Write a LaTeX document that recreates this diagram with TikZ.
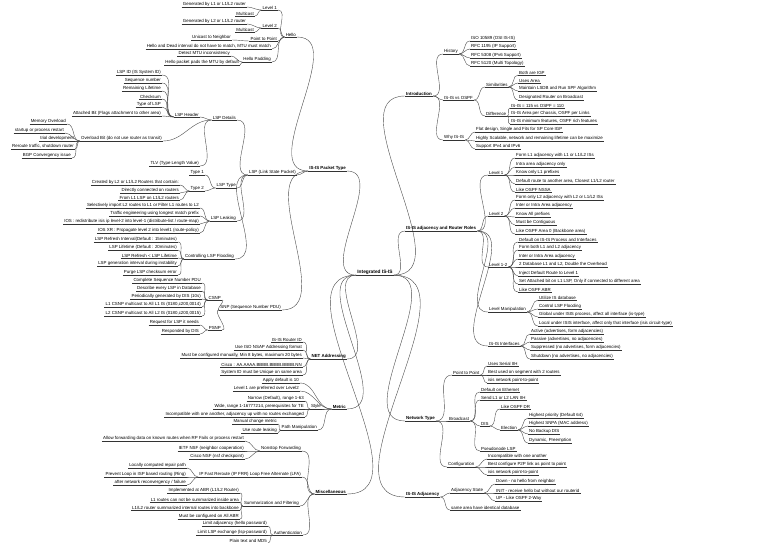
\documentclass[tikz,border=0pt]{standalone}
\usepackage{fontspec}
\setmainfont{Liberation Sans}
\tikzset{
 ul/.style={draw=black!80,line width=0.4pt},
 lf/.style={inner xsep=1pt,inner ysep=0.7pt,font=\fontsize{4.4}{5}\selectfont,
   append after command={(\tikzlastnode.south west) edge[ul] (\tikzlastnode.south east)}},
 con/.style={draw=black!70,line width=0.4pt},
}
\newcommand\LN[5]{\node[lf,anchor=south east] (#1) at (#3,#4+3) {#5};
  \draw[con] (#2.south west) to[out=180,in=0] (#1.south east);}
\newcommand\RN[5]{\node[lf,anchor=south west] (#1) at (#3,#4+3) {#5};
  \draw[con] (#2.south east) to[out=0,in=180] (#1.south west);}
\begin{document}
\begin{tikzpicture}[x=1pt,y=-1pt]
\useasboundingbox[fill=white] (0,0) rectangle (768,543);
\node[lf,font=\fontsize{4.8}{5}\selectfont\bfseries] (root) at (375,272) {Integrated IS-IS};
% ---------- left
\LN{pt}{root}{347}{168}{\bfseries IS-IS Packet Type}
\LN{hello}{pt}{297}{34}{Hello}
\LN{hl1}{hello}{278}{7}{Level 1}
\LN{a1}{hl1}{247}{4}{Generated by L1 or L1/L2 router}
\LN{a2}{hl1}{255}{13}{Multicast}
\LN{hl2}{hello}{278}{25}{Level 2}
\LN{a3}{hl2}{247}{21}{Generated by L2 or L1/L2 router}
\LN{a4}{hl2}{255}{29}{Multicast}
\LN{hp}{hello}{278}{38}{Point to Point}
\LN{a5}{hp}{232}{37}{Unicast to Neighbor}
\LN{a6}{hello}{272}{46}{Hello and Dead interval do not have to match, MTU must match}
\LN{hpad}{hello}{272}{59}{Hello Padding}
\LN{a7}{hpad}{231}{53}{Detect MTU inconsistency}
\LN{a8}{hpad}{240}{62}{Hello packet pads the MTU by default}
\LN{lsp}{pt}{297}{172}{LSP (Link State Packet)}
\LN{lspd}{lsp}{237}{117}{LSP Details}
\LN{lsph}{lspd}{200}{114}{LSP Header}
\LN{b1}{lsph}{162}{72}{LSP ID (IS System ID)}
\LN{b2}{lsph}{162}{80}{Sequence number}
\LN{b3}{lsph}{162}{88}{Remaining Lifetime}
\LN{b4}{lsph}{162}{96}{Checksum}
\LN{b5}{lsph}{162}{104}{Type of LSP}
\LN{b6}{lsph}{162}{113}{Attached Bit (Flags attachment to other area)}
\LN{ovl}{lspd}{163}{138}{Overload Bit (do not use router as transit)}
\LN{c1}{ovl}{67}{121}{Memory Overload}
\LN{c2}{ovl}{65}{130}{startup or process restart}
\LN{c3}{ovl}{75}{138}{trial development}
\LN{c4}{ovl}{75}{146}{Reroute traffic, shutdown router}
\LN{c5}{ovl}{72}{155}{BGP Convergency issue}
\LN{tlv}{lspd}{200}{163}{TLV (Type Length Value)}
\LN{lspt}{lsp}{237}{185}{LSP Type}
\LN{t1}{lspt}{205}{172}{Type 1}
\LN{t2}{lspt}{205}{188}{Type 2}
\LN{d1}{t2}{180}{182}{Created by L2 or L1/L2 Routers that contain:}
\LN{d2}{t2}{180}{190}{Directly connected on routers}
\LN{d3}{t2}{180}{197}{From L1 LSP on L1/L2 routers}
\LN{leak}{lsp}{237}{218}{LSP Leaking}
\LN{e1}{leak}{200}{205}{Selectively import L2 routes to L1 or Filter L1 routes to L2}
\LN{e2}{leak}{200}{213}{Traffic engineering using longest match prefix}
\LN{e3}{leak}{200}{221}{IOS : redistribute isis ip level-2 into level-1 (distribute-list / route-map)}
\LN{e4}{leak}{200}{230}{IOS XR : Propagate level 2 into level1 (route-policy)}
\LN{ctl}{lsp}{235}{256}{Controlling LSP Flooding}
\LN{f1}{ctl}{178}{239}{LSP Refresh Interval(Default : 15minutes)}
\LN{f2}{ctl}{178}{247}{LSP Lifetime (Default : 20minutes)}
\LN{f3}{ctl}{178}{255}{LSP Refresh < LSP Lifetime}
\LN{f4}{ctl}{178}{263}{LSP generation interval during instability}
\LN{f5}{ctl}{178}{272}{Purge LSP checksum error}
\LN{snp}{pt}{282}{307}{SNP (Sequence Number PDU)}
\LN{csnp}{snp}{222}{297}{CSNP}
\LN{g1}{csnp}{202}{280}{Complete Sequence Number PDU}
\LN{g2}{csnp}{202}{288}{Describe every LSP in Database}
\LN{g3}{csnp}{202}{296}{Periodically generated by DIS (10s)}
\LN{g4}{csnp}{202}{304}{L1 CSNP multicast to All L1 IS (0180,c200,0014)}
\LN{g5}{csnp}{202}{313}{L2 CSNP multicast to All L2 IS (0180,c200,0015)}
\LN{psnp}{snp}{222}{327}{PSNP}
\LN{g6}{psnp}{200}{322}{Request for LSP it needs}
\LN{g7}{psnp}{200}{331}{Responded by DIS}
\LN{net}{root}{347}{356}{\bfseries NET Addressing}
\LN{h1}{net}{303}{339}{IS-IS Router ID}
\LN{h2}{net}{303}{347}{Use ISO NSAP Addressing format}
\LN{h3}{net}{303}{355}{Must be configured manually, Min 8 bytes, maximum 20 bytes}
\LN{h4}{net}{303}{364}{Cisco : AA.AAAA.BBBB.BBBB.BBBB.NN}
\LN{h5}{net}{303}{372}{System ID must be Unique on same area}
\LN{met}{root}{347}{406}{\bfseries Metric}
\LN{i1}{met}{300}{380}{Apply default is 10}
\LN{i2}{met}{300}{388}{Level 1 are preferred over Level2}
\LN{mst}{met}{322}{406}{Style}
\LN{i3}{mst}{305}{398}{Narrow (Default), range 1-63}
\LN{i4}{mst}{305}{406}{Wide, range 1-16777214, prerequisites for TE}
\LN{i5}{mst}{305}{414}{Incompatible with one another, adjacency up with no routes exchanged}
\LN{pm}{met}{318}{427}{Path Manipulation}
\LN{i6}{pm}{278}{421}{Manual change metric}
\LN{i7}{pm}{278}{430}{Use route leaking}
\LN{misc}{root}{347}{491}{\bfseries Miscellaneous}
\LN{nsf}{misc}{302}{448}{Nonstop Forwarding}
\LN{j1}{nsf}{245}{438}{Allow forwarding data on known routes when RP Fails or process restart}
\LN{j2}{nsf}{245}{448}{IETF NSF (neighbor cooperation)}
\LN{j3}{nsf}{245}{456}{Cisco NSF (nsf checkpoint)}
\LN{frr}{misc}{302}{474}{IP Fast Reroute (IP FRR) Loop Free Alternate (LFA)}
\LN{k1}{frr}{187}{465}{Locally computed repair path}
\LN{k2}{frr}{187}{474}{Prevent Loop in ISP based routing (Ring)}
\LN{k3}{frr}{187}{482}{after network reconvergency / failure}
\LN{sum}{misc}{300}{503}{Summarization and Filtering}
\LN{l1}{sum}{240}{490}{Implemented at ABR (L1/L2 Router)}
\LN{l2}{sum}{240}{499}{L1 routes can not be summarized inside area}
\LN{l3}{sum}{240}{507}{L1/L2 router summarized internal routes into backbone}
\LN{l4}{sum}{240}{516}{Must be configured on All ABR}
\LN{auth}{misc}{303}{532}{Authentication}
\LN{m1}{auth}{268}{523}{Limit adjacency (hello password)}
\LN{m2}{auth}{268}{532}{Limit LSP exchange (lsp-password)}
\LN{m3}{auth}{268}{540}{Plain text and MD5}
% ---------- right
\RN{intro}{root}{405}{93}{\bfseries Introduction}
\RN{hist}{intro}{443}{51}{History}
\RN{n1}{hist}{470}{38}{ISO 10589 (OSI IS-IS)}
\RN{n2}{hist}{470}{46}{RFC 1195 (IP Support)}
\RN{n3}{hist}{470}{55}{RFC 5308 (IPv6 Support)}
\RN{n4}{hist}{470}{63}{RFC 5120 (Multi Topology)}
\RN{vs}{intro}{443}{97}{IS-IS vs OSPF}
\RN{sim}{vs}{485}{84}{Similarities}
\RN{o1}{sim}{518}{72}{Both are IGP}
\RN{o2}{sim}{518}{80}{Uses Area}
\RN{o3}{sim}{518}{88}{Maintain LSDB and Run SPF Algorithm}
\RN{o4}{sim}{518}{97}{Designated Router on Broadcast}
\RN{dif}{vs}{485}{113}{Difference}
\RN{p1}{dif}{510}{105}{IS-IS = 115 vs OSPF = 110}
\RN{p2}{dif}{510}{113}{IS-IS Area per Chassis, OSPF per Links}
\RN{p3}{dif}{510}{121}{IS-IS minimum features, OSPF rich features}
\RN{why}{intro}{443}{137}{Why IS-IS}
\RN{q1}{why}{475}{129}{Flat design, Single and Fits for SP Core IGP}
\RN{q2}{why}{475}{138}{Highly Scalable, network and remaining lifetime can be maximize}
\RN{q3}{why}{475}{146}{Support IPv4 and IPv6}
\RN{adj}{root}{405}{228}{\bfseries IS-IS adjacency and Router Roles}
\RN{lv1}{adj}{488}{172}{Level 1}
\RN{r1}{lv1}{515}{155}{Form L1 adjacency with L1 or L1/L2 ISs}
\RN{r2}{lv1}{515}{164}{Intra area adjacency only}
\RN{r3}{lv1}{515}{172}{Know only L1 prefixes}
\RN{r4}{lv1}{515}{181}{Default route to another area, Closest L1/L2 router}
\RN{r5}{lv1}{515}{189}{Like OSPF NSSA}
\RN{lv2}{adj}{488}{213}{Level 2}
\RN{s1}{lv2}{515}{197}{Form only L2 adjacency with L2 or L1/L2 ISs}
\RN{s2}{lv2}{515}{205}{Inter or Intra Area adjacency}
\RN{s3}{lv2}{515}{214}{Know All prefixes}
\RN{s4}{lv2}{515}{222}{Must be Contiguous}
\RN{s5}{lv2}{515}{231}{Like OSPF Area 0 (Backbone area)}
\RN{lv12}{adj}{488}{264}{Level 1-2}
\RN{u1}{lv12}{518}{239}{Default on IS-IS Process and Interfaces}
\RN{u2}{lv12}{518}{247}{Form both L1 and L2 adjacency}
\RN{u3}{lv12}{518}{256}{Inter or Intra Area adjacency}
\RN{u4}{lv12}{518}{264}{2 Database L1 and L2, Double the Overhead}
\RN{u5}{lv12}{518}{273}{Inject Default Route to Level 1}
\RN{u6}{lv12}{518}{281}{Set Attached bit on L1 LSP, Only if connected to different area}
\RN{u7}{lv12}{518}{289}{Like OSPF ABR}
\RN{lm}{adj}{488}{309}{Level Manipulation}
\RN{v1}{lm}{538}{297}{Utilize IS database}
\RN{v2}{lm}{538}{306}{Control LSP Flooding}
\RN{v3}{lm}{538}{314}{Global under ISIS process, affect all interface (is-type)}
\RN{v4}{lm}{538}{323}{Local under ISIS interface, affect only that interface (isis circuit-type)}
\RN{ii}{adj}{488}{343}{IS-IS Interfaces}
\RN{w1}{ii}{530}{331}{Active (advertises, form adjacencies)}
\RN{w2}{ii}{530}{339}{Passive (advertises, no adjacencies)}
\RN{w3}{ii}{530}{347}{Suppressed (no advertises, form adjacencies)}
\RN{w4}{ii}{530}{356}{Shutdown (no advertises, no adjacencies)}
\RN{nt}{root}{405}{418}{\bfseries Network Type}
\RN{p2p}{nt}{452}{372}{Point to Point}
\RN{x1}{p2p}{487}{363}{Uses Serial IIH}
\RN{x2}{p2p}{487}{372}{Best used on segment with 2 routers}
\RN{x3}{p2p}{487}{380}{isis network point-to-point}
\RN{bc}{nt}{448}{418}{Broadcast}
\RN{y1}{bc}{480}{389}{Default on Ethernet}
\RN{y2}{bc}{480}{397}{Send L1 or L2 LAN IIH}
\RN{dis}{bc}{480}{423}{DIS}
\RN{y3}{dis}{500}{406}{Like OSPF DR}
\RN{el}{dis}{500}{427}{Election}
\RN{z1}{el}{528}{415}{Highest priority (Default 64)}
\RN{z2}{el}{528}{423}{Highest SNPA (MAC address)}
\RN{z3}{el}{528}{431}{No Backup DIS}
\RN{z4}{el}{528}{440}{Dynamic, Preemption}
\RN{pn}{bc}{480}{448}{Pseudonode LSP}
\RN{cfg}{nt}{447}{464}{Configuration}
\RN{aa1}{cfg}{487}{456}{Incompatible with one another}
\RN{aa2}{cfg}{487}{464}{Best configure P2P link as point to point}
\RN{aa3}{cfg}{487}{472}{isis network point-to-point}
\RN{isa}{root}{405}{494}{\bfseries IS-IS Adjacency}
\RN{ast}{isa}{450}{490}{Adjacency State}
\RN{bb1}{ast}{495}{481}{Down - no hello from neighbor}
\RN{bb2}{ast}{495}{490}{INIT - receive hello but without our routerid}
\RN{bb3}{ast}{495}{498}{UP - Like OSPF 2-Way}
\RN{bb4}{isa}{450}{507}{same area have identical database}
\end{tikzpicture}
\end{document}
